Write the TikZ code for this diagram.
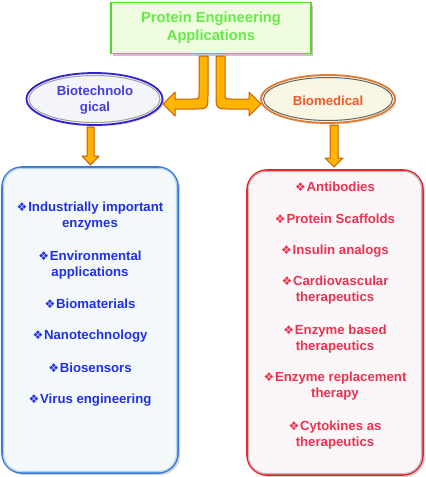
\documentclass[tikz,border=0pt]{standalone}
\usepackage{fontspec}
\setmainfont{Liberation Sans}
\newfontfamily\symfont{DejaVu Sans}
\usetikzlibrary{shapes.geometric,shadows}
\definecolor{titletext}{RGB}{100,236,70}
\definecolor{titlefill}{RGB}{240,252,224}
\definecolor{titleedge}{RGB}{85,215,40}
\definecolor{arrfill}{RGB}{255,180,0}
\definecolor{arredge}{RGB}{200,90,0}
\definecolor{bioedge}{RGB}{50,34,204}
\definecolor{biotext}{RGB}{70,60,220}
\definecolor{biofill}{RGB}{244,244,251}
\definecolor{mededge}{RGB}{224,122,48}
\definecolor{medtext}{RGB}{240,90,40}
\definecolor{medfill}{RGB}{250,246,228}
\definecolor{lboxedge}{RGB}{50,120,215}
\definecolor{lboxinner}{RGB}{184,212,228}
\definecolor{lboxfill}{RGB}{243,248,251}
\definecolor{ltext}{RGB}{32,48,232}
\definecolor{rboxedge}{RGB}{238,28,37}
\definecolor{rboxinner}{RGB}{196,186,190}
\definecolor{rboxfill}{RGB}{251,247,249}
\definecolor{rtext}{RGB}{235,50,80}
\newcommand\bul{{\symfont\fontsize{12}{12}\selectfont ❖}\kern0.8pt}
\begin{document}
\begin{tikzpicture}[x=1pt,y=-1pt,
  txt/.style={font=\bfseries\fontsize{13.2}{16}\selectfont, align=center, inner sep=0pt},
  titlebox/.style={draw=titleedge, line width=1.8pt, fill=titlefill, minimum width=200pt, minimum height=51pt,
     text=titletext, font=\bfseries\fontsize{14.7}{18}\selectfont, align=center,
     drop shadow={shadow xshift=2pt, shadow yshift=-2.5pt, opacity=.45}},
  ellbox/.style={ellipse, line width=1.8pt, minimum width=#1, inner sep=0pt,
     drop shadow={shadow xshift=1.5pt, shadow yshift=-1.5pt, opacity=.25}},
  listbox/.style={rounded corners=20pt, line width=1.6pt, minimum width=#1, inner sep=0pt,
     drop shadow={shadow xshift=2pt, shadow yshift=-2pt, opacity=.35}},
  blockarrow/.style={fill=arrfill, draw=arredge, line width=1pt, line join=round}
]
\useasboundingbox (0,0) rectangle (426,477);

% title
\node[titlebox] (title) at (211,28) {Protein Engineering\\Applications};

% ellipses
\node[ellbox=136pt, minimum height=52pt, draw=bioedge, fill=biofill] (bio) at (94.5,99) {};
\draw[gray!75, line width=1pt] (bio.center) ellipse [x radius=65.5, y radius=23.5];
\node[txt, text=biotext] (biotxt) at (95,100) {Biotechnolo\\gical};

\node[ellbox=134pt, minimum height=48pt, draw=mededge, fill=medfill] (med) at (328,99) {};
\draw[gray!80!black, line width=1pt] (med.center) ellipse [x radius=64.5, y radius=21.5];
\node[txt, text=medtext] (medtxt) at (328,101) {Biomedical};

% list boxes
\node[listbox=176pt, minimum height=306pt, draw=lboxedge, fill=lboxfill] (lbox) at (90,320) {};
\draw[lboxinner, line width=1.3pt, rounded corners=18pt] ([xshift=2.2pt,yshift=-2.2pt]lbox.north west) rectangle ([xshift=-2.2pt,yshift=2.2pt]lbox.south east);
\node[listbox=176pt, minimum height=305pt, draw=rboxedge, fill=rboxfill] (rbox) at (335,322.5) {};
\draw[rboxinner, line width=1.3pt, rounded corners=18pt] ([xshift=2.2pt,yshift=-2.2pt]rbox.north west) rectangle ([xshift=-2.2pt,yshift=2.2pt]rbox.south east);

% left items
\begin{scope}[every node/.style={txt, text=ltext}]
\node (l1) at (90,216.5) {\bul Industrially important\\enzymes};
\node (l2) at (90,265) {\bul Environmental\\applications};
\node (l3) at (90,304) {\bul Biomaterials};
\node (l4) at (90,336) {\bul Nanotechnology};
\node (l5) at (90,368) {\bul Biosensors};
\node (l6) at (90,400) {\bul Virus engineering};
\end{scope}

% right items
\begin{scope}[every node/.style={txt, text=rtext}]
\node (r1) at (335,187) {\bul Antibodies};
\node (r2) at (335,219) {\bul Protein Scaffolds};
\node (r3) at (335,251) {\bul Insulin analogs};
\node (r4) at (335,290.5) {\bul Cardiovascular\\therapeutics};
\node (r5) at (335,339) {\bul Enzyme based\\therapeutics};
\node (r6) at (335,386.5) {\bul Enzyme replacement\\therapy};
\node (r7) at (335,435) {\bul Cytokines as\\therapeutics};
\end{scope}

% block arrows
\draw[blockarrow] (199,56) -- (199,93) .. controls (199,99) .. (193,99) -- (175,99) -- (175,92)
   -- (163,104) -- (175,116) -- (175,109) -- (193,109) .. controls (208,109) .. (208,94) -- (208,56) -- cycle;
\draw[blockarrow] (225,56) -- (225,93) .. controls (225,99) .. (231,99) -- (249,99) -- (249,92)
   -- (261,104) -- (249,116) -- (249,109) -- (231,109) .. controls (216,109) .. (216,94) -- (216,56) -- cycle;
\draw[blockarrow] (87,127) -- (87,156) -- (82,156) -- (90.5,165) -- (99,156) -- (94,156) -- (94,127) -- cycle;
\draw[blockarrow] (330,125) -- (330,158) -- (325,158) -- (334,167) -- (343,158) -- (338,158) -- (338,125) -- cycle;
\end{tikzpicture}
\end{document}
